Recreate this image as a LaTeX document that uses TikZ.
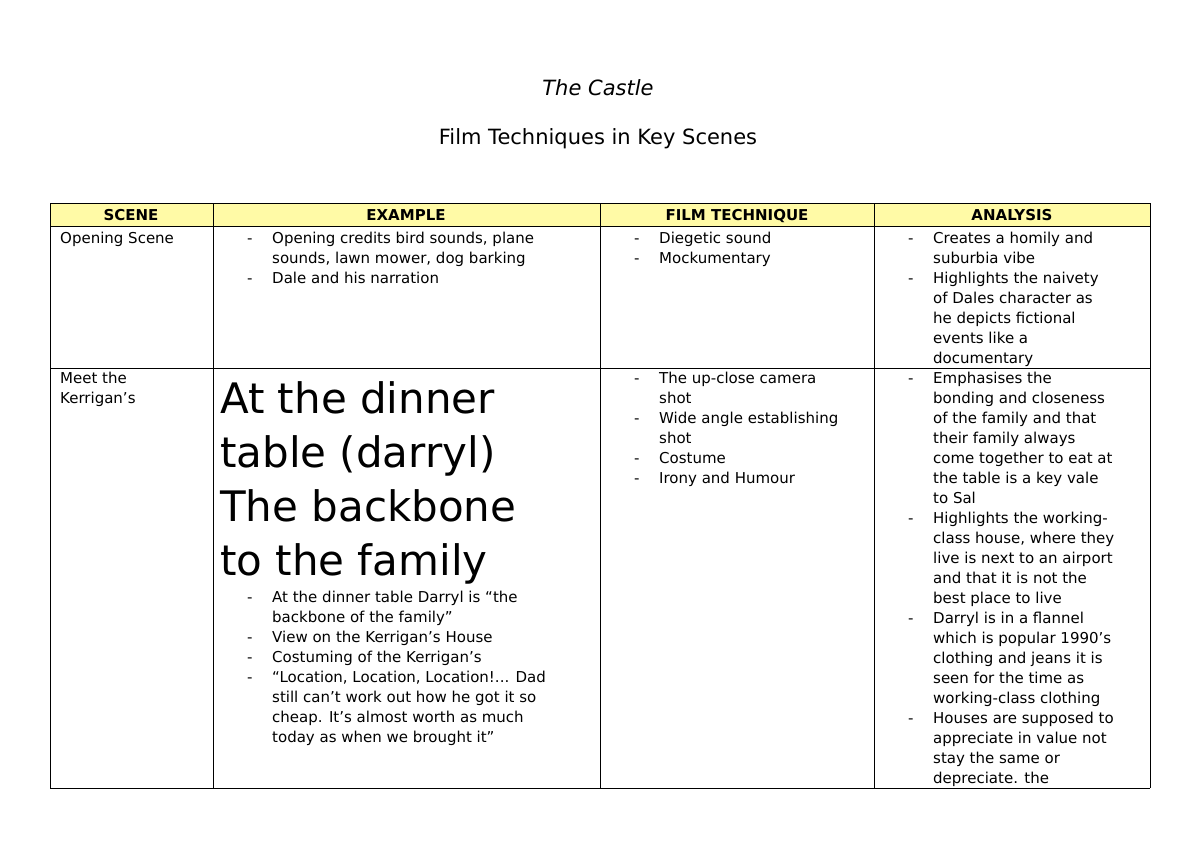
\documentclass[tikz,border=0pt]{standalone}
\usepackage{fontspec}
\setmainfont{DejaVu Sans}
\begin{document}
\begin{tikzpicture}[x=1pt,y=-1pt,
  t/.style={anchor=base west,inner sep=0pt,font=\fontsize{15}{18}\selectfont},
  h/.style={anchor=base,inner sep=0pt,font=\fontsize{15}{18}\selectfont\bfseries},
  big/.style={anchor=base west,inner sep=0pt,font=\fontsize{42}{50}\selectfont},
  ln/.style={line width=0.8pt}]
\useasboundingbox (0,0) rectangle (1200,849);
\node[anchor=base,inner sep=0pt,font=\fontsize{21}{25}\selectfont\itshape] (title) at (598,95) {The Castle};
\node[anchor=base,inner sep=0pt,font=\fontsize{21}{25}\selectfont] (sub) at (598,144) {Film Techniques in Key Scenes};
\fill[yellow!35!white] (50,203) rectangle (1150,226);
\foreach \y in {203,226,368,788} \draw[ln] (50,\y) -- (1150,\y);
\foreach \x in {50,213,600,874,1150} \draw[ln] (\x,203) -- (\x,788);
\node[h] (h1) at (131,220) {SCENE};
\node[h] (h2) at (406,220) {EXAMPLE};
\node[h] (h3) at (737,220) {FILM TECHNIQUE};
\node[h] (h4) at (1012,220) {ANALYSIS};
% row 1
\node[t] (s1) at (60,243) {Opening Scene};
\foreach \i/\s/\d in {0/{Opening credits bird sounds, plane}/1,1/{sounds, lawn mower, dog barking}/0,2/{Dale and his narration}/1}{
  \node[t] at (272,243+20*\i) {\s};
  \ifnum\d=1 \node[t] at (247,243+20*\i) {-};\fi}
\foreach \i/\s in {0/Diegetic sound,1/Mockumentary}{
  \node[t] at (659,243+20*\i) {\s}; \node[t] at (634,243+20*\i) {-};}
\foreach \i/\s/\d in {0/{Creates a homily and}/1,1/{suburbia vibe}/0,2/{Highlights the naivety}/1,3/{of Dales character as}/0,4/{he depicts fictional}/0,5/{events like a}/0,6/{documentary}/0}{
  \node[t] at (933,243+20*\i) {\s};
  \ifnum\d=1 \node[t] at (908,243+20*\i) {-};\fi}
% row 2
\node[t] (s2) at (60,383) {Meet the};
\node[t] at (60,403) {Kerrigan’s};
\foreach \i/\s in {0/At the dinner,1/table (darryl),2/The backbone,3/to the family}{
  \node[big] at (220,413+54*\i) {\s};}
\foreach \i/\s/\d in {0/{At the dinner table Darryl is “the}/1,1/{backbone of the family”}/0,2/{View on the Kerrigan’s House}/1,3/{Costuming of the Kerrigan’s}/1,4/{“Location, Location, Location!... Dad}/1,5/{still can’t work out how he got it so}/0,6/{cheap. It’s almost worth as much}/0,7/{today as when we brought it”}/0}{
  \node[t] at (272,602+20*\i) {\s};
  \ifnum\d=1 \node[t] at (247,602+20*\i) {-};\fi}
\foreach \i/\s/\d in {0/{The up-close camera}/1,1/{shot}/0,2/{Wide angle establishing}/1,3/{shot}/0,4/{Costume}/1,5/{Irony and Humour}/1}{
  \node[t] at (659,383+20*\i) {\s};
  \ifnum\d=1 \node[t] at (634,383+20*\i) {-};\fi}
\foreach \i/\s/\d in {0/{Emphasises the}/1,1/{bonding and closeness}/0,2/{of the family and that}/0,3/{their family always}/0,4/{come together to eat at}/0,5/{the table is a key vale}/0,6/{to Sal}/0,7/{Highlights the working-}/1,8/{class house, where they}/0,9/{live is next to an airport}/0,10/{and that it is not the}/0,11/{best place to live}/0,12/{Darryl is in a flannel}/1,13/{which is popular 1990’s}/0,14/{clothing and jeans it is}/0,15/{seen for the time as}/0,16/{working-class clothing}/0,17/{Houses are supposed to}/1,18/{appreciate in value not}/0,19/{stay the same or}/0,20/{depreciate. the}/0}{
  \node[t] at (933,383+20*\i) {\s};
  \ifnum\d=1 \node[t] at (908,383+20*\i) {-};\fi}
\end{tikzpicture}
\end{document}
